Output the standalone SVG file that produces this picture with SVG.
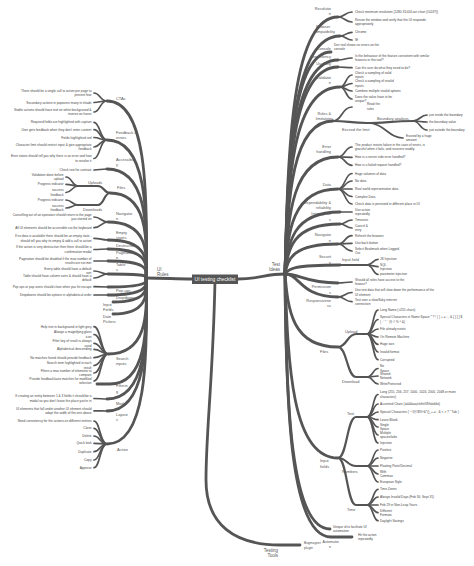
<svg xmlns="http://www.w3.org/2000/svg" width="474" height="566" viewBox="0 0 474 566">
<style>
text{font-family:"Liberation Sans",Arial,sans-serif;fill:#444}
.t{font-size:3.2px}
.e{text-anchor:end}
.b{font-size:3.9px;fill:#555}
.m{font-size:4.5px;fill:#555}
.k{fill:none;stroke:#555;stroke-linecap:round}
.k1{stroke-width:2.8}
.k2{stroke-width:2.2}
.k3{stroke-width:1.7}
</style>
<rect width="474" height="566" fill="#fff"/>
<g id="connectors" class="k">
<g class="k1">
<path d="M146,278 C165,278 175,279 192,279"/>
<path d="M238,279 C260,279 265,274 285,274"/>
<path d="M215,280 C213,380 206,430 206,480 C206,525 235,545 280,545 L300,545"/>
<path d="M285,274 C288,145 292,17 338,17"/>
<path d="M285,274 C288,155 292,36 340,36"/>
<path d="M285,274 C288,163 292,52 331,52"/>
<path d="M285,274 C288,167 292,60 338,60"/>
<path d="M285,274 C288,171 292,67 338,67"/>
<path d="M285,274 C288,180 292,87 340,87"/>
<path d="M285,274 C288,197 292,121 333,121"/>
<path d="M285,274 C288,215 292,157 338,157"/>
<path d="M285,274 C288,231 292,189 338,189"/>
<path d="M285,274 C288,243 292,212 340,212"/>
<path d="M285,274 C288,249 292,224 340,224"/>
<path d="M285,274 C288,259 292,244 338,244"/>
<path d="M285,274 C288,269 292,265 340,265"/>
<path d="M285,274 C300,274 305,283 338,283"/>
<path d="M285,274 C300,274 300,297 338,297"/>
<path d="M285,274 C288,310 292,347 338,347"/>
<path d="M285,274 C288,366 292,458 338,458"/>
<path d="M285,274 C286,400 290,529 330,529"/>
<path d="M285,274 C286,405 290,537 331,537 L352,537"/>
<path d="M146,278 C148,189 146,101 107,101"/>
<path d="M146,278 C148,209 146,140 107,140"/>
<path d="M146,278 C148,223 146,169 107,169"/>
<path d="M146,278 C148,235 146,193 110,193"/>
<path d="M146,278 C148,250 146,222 108,222"/>
<path d="M146,278 C148,259 146,240 108,240"/>
<path d="M146,278 C148,263 146,249 108,249"/>
<path d="M146,278 C148,269 146,261 108,261"/>
<path d="M146,278 C148,276 146,274 108,274"/>
<path d="M146,278 C148,282 146,287 108,287"/>
<path d="M146,278 C148,286 146,295 108,295"/>
<path d="M146,278 C148,290 146,302 113,302"/>
<path d="M146,278 C148,296 146,314 113,314"/>
<path d="M146,278 C148,316 146,354 108,354"/>
<path d="M146,278 C148,331 146,384 110,384 L97,384"/>
<path d="M146,278 C148,338 146,399 107,399"/>
<path d="M146,278 C148,344 146,411 107,411"/>
<path d="M146,278 C148,361 146,444 107,444"/>
</g>
<g class="k2">
<path d="M333,121 C348,121 350,123 367,123"/>
<path d="M367,123 C385,123 392,121 413,121"/>
<path d="M340,265 L367,265"/>
<path d="M338,347 C347,347 347,334 356,334 L367,334"/>
<path d="M338,347 C347,347 347,377 356,377 L367,377"/>
<path d="M338,458 C347,458 347,417 356,417 L367,417"/>
<path d="M338,458 C347,458 347,466 356,466 L367,466"/>
<path d="M338,458 C347,458 347,505 356,505 L367,505"/>
<path d="M110,193 C104,193 104,186 98,186 L78,186"/>
<path d="M110,193 C104,193 104,205 98,205 L78,205"/>
</g>
<g class="k3">
<path d="M338,17 C345,17 345,12 352,12"/><path d="M338,17 C345,17 345,22 352,22"/>
<path d="M340,36 C346,36 346,32.3 352,32.3"/><path d="M340,36 C346,36 346,40 352,40"/>
<path d="M338,60 C345,60 345,58 352,58"/>
<path d="M338,67 C345,67 345,67.7 352,67.7"/>
<path d="M340,87 C346,87 346,75 352,75"/><path d="M340,87 C346,87 346,83.5 352,83.5"/><path d="M340,87 C346,87 346,91 352,91"/><path d="M340,87 C346,87 346,99 352,99"/>
<path d="M333,121 C342,121 342,107 352,107"/>
<path d="M367,123 C385,123 388,138 403,138"/>
<path d="M413,121 C420,121 420,115 427,115"/><path d="M413,121 C420,121 420,122 427,122"/><path d="M413,121 C420,121 420,130 427,130"/>
<path d="M338,157 C345,157 345,147 352,147"/><path d="M338,157 C345,157 345,157.3 352,157.3"/><path d="M338,157 C345,157 345,165.3 352,165.3"/>
<path d="M338,189 C345,189 345,173.5 352,173.5"/><path d="M338,189 C345,189 345,181 352,181"/><path d="M338,189 C345,189 345,189 352,189"/><path d="M338,189 C345,189 345,196.5 352,196.5"/><path d="M338,189 C345,189 345,204 352,204"/>
<path d="M340,212 L352,212"/>
<path d="M340,224 C346,224 346,220 352,220"/><path d="M340,224 C346,224 346,228 352,228"/>
<path d="M338,244 C345,244 345,235.7 352,235.7"/><path d="M338,244 C345,244 345,243.3 352,243.3"/><path d="M338,244 C345,244 345,251 352,251"/>
<path d="M367,265 C373,265 373,259.3 378,259.3"/><path d="M367,265 C373,265 373,266.7 378,266.7"/><path d="M367,265 C373,265 373,274.3 378,274.3"/>
<path d="M338,283 C345,283 345,282 352,282"/>
<path d="M338,297 C345,297 345,292.5 352,292.5"/><path d="M338,297 C345,297 345,301.7 352,301.7"/>
<path d="M367,334 C373,334 373,310 378,310"/><path d="M367,334 C373,334 373,319.5 378,319.5"/><path d="M367,334 C373,334 373,329 378,329"/><path d="M367,334 C373,334 373,337 378,337"/><path d="M367,334 C373,334 373,344.3 378,344.3"/><path d="M367,334 C373,334 373,352 378,352"/><path d="M367,334 C373,334 373,359.7 378,359.7"/>
<path d="M367,377 C373,377 373,368.5 378,368.5"/><path d="M367,377 C373,377 373,376 378,376"/><path d="M367,377 C373,377 373,384 378,384"/>
<path d="M367,417 C373,417 373,394.5 378,394.5"/><path d="M367,417 C373,417 373,404 378,404"/><path d="M367,417 C373,417 373,412 378,412"/><path d="M367,417 C373,417 373,419.7 378,419.7"/><path d="M367,417 C373,417 373,427 378,427"/><path d="M367,417 C373,417 373,435 378,435"/><path d="M367,417 C373,417 373,443 378,443"/>
<path d="M367,466 C373,466 373,450 378,450"/><path d="M367,466 C373,466 373,458 378,458"/><path d="M367,466 C373,466 373,466 378,466"/><path d="M367,466 C373,466 373,474 378,474"/><path d="M367,466 C373,466 373,482 378,482"/>
<path d="M367,505 C373,505 373,489.3 378,489.3"/><path d="M367,505 C373,505 373,497 378,497"/><path d="M367,505 C373,505 373,505 378,505"/><path d="M367,505 C373,505 373,512.7 378,512.7"/><path d="M367,505 C373,505 373,520.7 378,520.7"/>
<path d="M107,101 C100,101 100,93 94,93"/><path d="M107,101 C100,101 100,102.5 94,102.5"/><path d="M107,101 C100,101 100,112 94,112"/>
<path d="M107,140 C100,140 100,122.3 94,122.3"/><path d="M107,140 C100,140 100,129.7 94,129.7"/><path d="M107,140 C100,140 100,137.5 94,137.5"/><path d="M107,140 C100,140 100,147 94,147"/><path d="M107,140 C100,140 100,158.5 94,158.5"/>
<path d="M107,169 C100,169 100,170 94,170"/>
<path d="M78,186 C72,186 72,177 66,177"/><path d="M78,186 C72,186 72,184.3 66,184.3"/><path d="M78,186 C72,186 72,192.5 66,192.5"/>
<path d="M78,205 C72,205 72,200 66,200"/><path d="M78,205 C72,205 72,208 66,208"/>
<path d="M108,222 C101,222 101,217 94,217"/><path d="M108,222 C101,222 101,227.7 94,227.7"/>
<path d="M108,240 C101,240 101,238.3 94,238.3"/>
<path d="M108,249 C101,249 101,249.5 94,249.5"/>
<path d="M108,261 L94,261"/>
<path d="M108,274 C101,274 101,271 94,271"/><path d="M108,274 C101,274 101,278 94,278"/>
<path d="M108,287 L94,286.7"/>
<path d="M108,295 L94,295"/>
<path d="M108,354 C101,354 101,326.7 94,326.7"/><path d="M108,354 C101,354 101,334.5 94,334.5"/><path d="M108,354 C101,354 101,343.3 94,343.3"/><path d="M108,354 C101,354 101,349.3 94,349.3"/><path d="M108,354 C101,354 101,357.7 94,357.7"/><path d="M108,354 C101,354 101,365.5 94,365.5"/><path d="M108,354 C101,354 101,373 94,373"/><path d="M108,354 C101,354 101,381 94,381"/>
<path d="M107,399 C101,399 101,398.5 94,398.5"/>
<path d="M107,411 C101,411 101,410.8 94,410.8"/>
<path d="M107,444 C100,444 100,421 94,421"/><path d="M107,444 C100,444 100,428.3 94,428.3"/><path d="M107,444 C100,444 100,436 94,436"/><path d="M107,444 C100,444 100,443.3 94,443.3"/><path d="M107,444 C100,444 100,451.7 94,451.7"/><path d="M107,444 C100,444 100,460 94,460"/><path d="M107,444 C100,444 100,467.7 94,467.7"/>
</g>
</g>
<g id="root"><rect x="192" y="274.5" width="46" height="9.5" fill="#555"/><text x="215" y="281" style="font-size:4.9px;fill:#fff;text-anchor:middle">UI testing checklist</text></g>
<g id="ui-rules"><text class="m" x="157" y="270.6">UI<tspan x="157" dy="5">Rules</tspan></text></g>
<g id="test-ideas"><text class="m e" x="280" y="265.5">Test<tspan x="280" dy="5.5">Ideas</tspan></text></g>
<g id="testing-tools"><text class="m e" x="278" y="551.5">Testing<tspan x="278" dy="5.5">Tools</tspan></text>
<text x="304" y="544.3" style="font-size:3.3px;fill:#555">Bugmagnet<tspan x="304" dy="4.6">plugin</tspan></text></g>

<g id="resolution"><text class="b e" x="331" y="9.5">Resolutio<tspan x="331" dy="5.3">n</tspan></text>
<text class="t" x="355" y="13.1">Check minimum resolution (1280 X1024 our chart (1024?))</text>
<text class="t" x="355" y="20.9">Resize the window and verify that the UI responds<tspan x="355" dy="4.3">appropriately</tspan></text></g>
<g id="browser"><text class="b" x="316" y="27.5">Browser<tspan x="313.5" dy="5.5">compatibility</tspan></text>
<text class="t" x="355" y="33.4">Chrome</text><text class="t" x="355" y="41.1">IE</text></g>
<g id="console"><text class="b e" x="331" y="49.5">Console</text>
<text class="t" x="334" y="46">Dev tool shows no errors on the<tspan x="334" dy="4.3">console</tspan></text></g>
<g id="consistency"><text class="b e" x="331" y="58">Consistency</text>
<text class="t" x="355" y="57">Is the behaviour of the feature consistent with similar<tspan x="355" dy="4.3">features in this tool?</tspan></text></g>
<g id="usability"><text class="b e" x="331" y="65">Usability</text>
<text class="t" x="355" y="68.8">Can the user do what they need to do?</text></g>
<g id="validation"><text class="b e" x="331" y="78.5">Validatio<tspan x="331" dy="5.3">n</tspan></text>
<text class="t" x="355" y="74">Check a sampling of valid<tspan x="355" dy="4.3">inputs</tspan></text>
<text class="t" x="355" y="82.45">Check a sampling of invalid<tspan x="355" dy="4.3">inputs</tspan></text>
<text class="t" x="355" y="92.1">Combine multiple invalid options</text>
<text class="t" x="355" y="97.95">Does the value have to be<tspan x="355" dy="4.3">unique?</tspan></text></g>
<g id="rules"><text class="b e" x="331" y="114.5">Rules &amp;<tspan x="333" dy="5.3">limitations</tspan></text>
<text class="t" x="367" y="105.3">Read the<tspan x="367" dy="4.3">rules</tspan></text>
<text class="b" x="342" y="131.3">Exceed the limit</text>
<text class="b" x="377" y="119.5">Boundary analysis</text>
<text class="t" x="429" y="116.1">just inside the boundary</text>
<text class="t" x="429" y="123.1">the boundary value</text>
<text class="t" x="429" y="131.1">just outside the boundary</text>
<text class="t" x="406" y="136.9">Exceed by a huge<tspan x="406" dy="4.3">amount</tspan></text></g>
<g id="error-handling"><text class="b e" x="331" y="147.5">Error<tspan x="331" dy="5.3">handling</tspan></text>
<text class="t" x="355" y="145.95">The product resists failure in the case of errors, is<tspan x="355" dy="4.3">graceful when it fails, and recovers readily.</tspan></text>
<text class="t" x="355" y="158.4">How is a server side error handled?</text>
<text class="t" x="355" y="166.4">How is a failed request handled?</text></g>
<g id="data"><text class="b e" x="331" y="185.5">Data</text>
<text class="t" x="355" y="174.6">Huge volumes of data</text>
<text class="t" x="355" y="182.1">No data</text>
<text class="t" x="355" y="190.1">Real world representative data</text>
<text class="t" x="355" y="197.6">Complex Data</text>
<text class="t" x="355" y="205.1">Check data is persisted in different place in UI</text></g>
<g id="dependability"><text class="b e" x="331" y="203.5">Dependability &amp;<tspan x="331" dy="5.3">reliability</tspan></text>
<text class="t" x="355" y="210.95">Use action<tspan x="355" dy="4.3">repeatedly</tspan></text></g>
<g id="interruptions"><text class="b e" x="331" y="215.3">Interruption<tspan x="331" dy="5.3">s</tspan></text>
<text class="t" x="355" y="221.1">Timeouts</text>
<text class="t" x="355" y="226.95">Cancel &amp;<tspan x="355" dy="4.3">retry</tspan></text></g>
<g id="navigation-r"><text class="b e" x="331" y="236.3">Navigatio<tspan x="331" dy="5.3">n</tspan></text>
<text class="t" x="355" y="236.8">Refresh the browser</text>
<text class="t" x="355" y="244.4">Use back button</text>
<text class="t" x="355" y="249.95">Select Bookmark when Logged<tspan x="355" dy="4.3">Out</tspan></text></g>
<g id="security"><text class="b e" x="331" y="258.3">Securit<tspan x="331" dy="5.2">y</tspan></text>
<text class="b" x="342" y="260.5">Input field</text>
<text class="t" x="380" y="260.4">JS Injection</text>
<text class="t" x="380" y="265.65">SQL<tspan x="380" dy="4.3">Injection</tspan></text>
<text class="t" x="380" y="275.4">parameter injection</text></g>
<g id="permissions"><text class="b e" x="331" y="288.3">Permission<tspan x="331" dy="5.2">s</tspan></text>
<text class="t" x="355" y="280.95">Should all roles have access to the<tspan x="355" dy="4.3">feature?</tspan></text></g>
<g id="responsiveness"><text class="b e" x="331" y="302">Responsivene<tspan x="331" dy="5.3">ss</tspan></text>
<text class="t" x="355" y="291.45">Use test data that will slow down the performance of the<tspan x="355" dy="4.3">UI element</tspan></text>
<text class="t" x="355" y="300.65">Test over a slow/flaky internet<tspan x="355" dy="4.3">connection</tspan></text></g>
<g id="files-r"><text class="b" x="320" y="353">Files</text>
<text class="b" x="345" y="332.5">Upload</text>
<text class="t" x="380" y="311.1">Long Name (&gt;255 chars)</text>
<text class="t" x="380" y="318.45">Special Characters in Name Space * ? ! ( ) + = ; , &amp; { } [ ] $<tspan x="380" dy="4.3">| : ' " ` @ # % ^ &amp;)</tspan></text>
<text class="t" x="380" y="330.1">File already exists</text>
<text class="t" x="380" y="338.1">On Remote Machine</text>
<text class="t" x="380" y="345.4">Huge size</text>
<text class="t" x="380" y="353.1">Invalid format</text>
<text class="t" x="380" y="360.8">Corrupted</text>
<text class="b" x="342" y="383">Download</text>
<text class="t" x="380" y="367.45">No<tspan x="380" dy="4.3">Space</tspan></text>
<text class="t" x="380" y="374.95">Shared<tspan x="380" dy="4.3">Network</tspan></text>
<text class="t" x="380" y="385.1">WriteProtected</text></g>
<g id="input-fields-r"><text class="b" x="320" y="462.3">Input<tspan x="320" dy="5.3">fields</tspan></text>
<text class="b" x="347" y="414.5">Text</text>
<text class="t" x="380" y="393.45">Long (255, 256, 257, 1000, 1024, 2000, 2048 or more<tspan x="380" dy="4.3">characters)</tspan></text>
<text class="t" x="380" y="405.1">Accented Chars (àáâãäåçèéêëìíîðñòóôõö)</text>
<text class="t" x="380" y="413.1">Special Characters (`~!@#$%^&amp;*()_+-= ; &amp; &lt; &gt; ? " Tab )</text>
<text class="t" x="380" y="420.8">Leave Blank</text>
<text class="t" x="380" y="425.95">Single<tspan x="380" dy="4.3">Space</tspan></text>
<text class="t" x="380" y="433.95">Multiple<tspan x="380" dy="4.3">spaces/tabs</tspan></text>
<text class="t" x="380" y="444.1">Injection</text>
<text class="b" x="342" y="472.5">Numbers</text>
<text class="t" x="380" y="451.1">Positive</text>
<text class="t" x="380" y="459.1">Negative</text>
<text class="t" x="380" y="467.1">Floating Point/Decimal</text>
<text class="t" x="380" y="472.95">With<tspan x="380" dy="4.3">Commas</tspan></text>
<text class="t" x="380" y="483.1">European Style</text>
<text class="b" x="347" y="511">Time</text>
<text class="t" x="380" y="490.4">Time Zones</text>
<text class="t" x="380" y="498.1">Always Invalid Days (Feb 30, Sept 31)</text>
<text class="t" x="380" y="506.1">Feb 29 in Non-Leap Years</text>
<text class="t" x="380" y="511.65">Different<tspan x="380" dy="4.3">Formats</tspan></text>
<text class="t" x="380" y="521.8">Daylight Savings</text></g>
<g id="unique-id"><text class="t" x="333" y="527.8">Unique id to facilitate UI<tspan x="333" dy="4.3">automation</tspan></text></g>
<g id="automation"><text x="322.5" y="542.5" style="font-size:3.6px;fill:#555">Automatio<tspan x="329" dy="5">n</tspan></text>
<text class="t" x="358" y="535.5">Hit the action<tspan x="358" dy="4.3">repeatedly</tspan></text></g>

<g id="ctas"><text class="b" x="116" y="99.5">CTAs</text>
<text class="t e" x="91.5" y="91.95">There should be a single call to action per page to<tspan x="91.5" dy="4.3">prevent fear</tspan></text>
<text class="t e" x="91.5" y="103.6">Secondary actions in popovers many in shade</text>
<text class="t e" x="91.5" y="110.95">Stable actions should have text on white background &amp;<tspan x="91.5" dy="4.3">inverse on hover</tspan></text></g>
<g id="feedback"><text class="b" x="116" y="134">Feedback &amp;<tspan x="116" dy="5">errors</tspan></text>
<text class="t e" x="91.5" y="123.4">Required fields are highlighted with caption</text>
<text class="t e" x="91.5" y="130.8">User gets feedback when they don't enter content</text>
<text class="t e" x="91.5" y="138.6">Fields highlighted red</text>
<text class="t e" x="91.5" y="145.95">Character limit should restrict input &amp; give appropriate<tspan x="91.5" dy="4.3">feedback</tspan></text>
<text class="t e" x="91.5" y="157.45">Error states should tell you why there is an error and how<tspan x="91.5" dy="4.3">to resolve it</tspan></text></g>
<g id="accessibility"><text class="b" x="116" y="161.3">Accessibilit<tspan x="116" dy="5">y</tspan></text>
<text class="t e" x="91.5" y="171.1">Check text for contrast</text></g>
<g id="files-l"><text class="b" x="117" y="189">Files</text>
<text class="b" x="88" y="184">Uploads</text>
<text class="t e" x="63.5" y="175.95">Validation done before<tspan x="63.5" dy="4.3">upload</tspan></text>
<text class="t e" x="63.5" y="185.4">Progress indicator</text>
<text class="t e" x="63.5" y="191.45">success<tspan x="63.5" dy="4.3">feedback</tspan></text>
<text class="b" x="83" y="210.5">Downloads</text>
<text class="t e" x="63.5" y="201.1">Progress indicator</text>
<text class="t e" x="63.5" y="206.95">success<tspan x="63.5" dy="4.3">feedback</tspan></text></g>
<g id="navigation-l"><text class="b" x="116" y="214.5">Navigatio<tspan x="116" dy="5">n</tspan></text>
<text class="t e" x="91.5" y="215.95">Cancelling out of an operation should return to the page<tspan x="91.5" dy="4.3">you started on</tspan></text>
<text class="t e" x="91.5" y="228.8">All UI elements should be accessible via the keyboard</text></g>
<g id="empty-states"><text class="b" x="116" y="234">Empty<tspan x="116" dy="4.5">states</tspan></text>
<text class="t e" x="91.5" y="237.25">If no data is available there should be an empty state -<tspan x="91.5" dy="4.3">should tell you why its empty &amp; add a call to action</tspan></text></g>
<g id="destructive"><text class="b" x="116" y="247">Destructive</text>
<text class="t e" x="91.5" y="248.45">If the action is very destructive then there should be a<tspan x="91.5" dy="4.3">confirmation modal</tspan></text></g>
<g id="pagination"><text class="b" x="116" y="253.5">Paginatio<tspan x="116" dy="5">n</tspan></text>
<text class="t e" x="91.5" y="259.95">Pagination should be disabled if the max number of<tspan x="91.5" dy="4.3">results are not met</tspan></text></g>
<g id="tables"><text class="b" x="116" y="266">Table<tspan x="116" dy="5">s</tspan></text>
<text class="t e" x="91.5" y="269.95">Every table should have a default<tspan x="91.5" dy="4.3">sort</tspan></text>
<text class="t e" x="91.5" y="276.95">Table should have column sorts &amp; should have a<tspan x="91.5" dy="4.3">default</tspan></text></g>
<g id="popups"><text class="b" x="116" y="291.5">Pop-ups</text>
<text class="t e" x="91.5" y="287.8">Pop ups or pop overs should close when you hit escape</text></g>
<g id="dropdowns"><text class="b" x="116" y="299">Dropdowns</text>
<text class="t e" x="91.5" y="296.1">Dropdowns should be options in alphabetical order</text></g>
<g id="input-fields-l"><text class="b" x="103" y="306">Input<tspan x="103" dy="4.5">Fields</tspan></text></g>
<g id="date-pickers"><text class="b" x="103" y="318">Date<tspan x="103" dy="4.5">Pickers</tspan></text></g>
<g id="search"><text class="b" x="116" y="359.5">Search<tspan x="116" dy="5">inputs</tspan></text>
<text class="t e" x="91.5" y="327.8">Help text in background in light grey</text>
<text class="t e" x="91.5" y="333.45">Always a magnifying glass<tspan x="91.5" dy="4.3">icon</tspan></text>
<text class="t e" x="91.5" y="342.25">Filter key of result is always<tspan x="91.5" dy="4.3">used</tspan></text>
<text class="t e" x="91.5" y="350.4">Alphabetical descending</text>
<text class="t e" x="91.5" y="358.8">No matches found should provide feedback</text>
<text class="t e" x="91.5" y="364.45">Search term highlighted in each<tspan x="91.5" dy="4.3">result</tspan></text>
<text class="t e" x="91.5" y="371.95">Filters a max number of elements to<tspan x="91.5" dy="4.3">compare</tspan></text>
<text class="t e" x="91.5" y="379.95">Provide feedback/auto matches for modified<tspan x="91.5" dy="4.3">selection</tspan></text></g>
<g id="filtering"><text class="b" x="116" y="387">Filterin<tspan x="116" dy="5.5">g</tspan></text></g>
<g id="modals"><text class="b" x="116" y="405.3">Modal<tspan x="116" dy="4.3">s</tspan></text>
<text class="t e" x="91.5" y="397.45">If creating an entity between 1 &amp; 3 fields it should be a<tspan x="91.5" dy="4.3">modal so you don't leave the place you're in</tspan></text></g>
<g id="layouts"><text class="b" x="116" y="415.5">Layout<tspan x="116" dy="5">s</tspan></text>
<text class="t e" x="91.5" y="409.75">UI elements that fall under another UI element should<tspan x="91.5" dy="4.3">adopt the width of the one above</tspan></text></g>
<g id="action"><text class="b" x="117" y="450.5">Action</text>
<text class="t e" x="91.5" y="422.1">Need consistency for the actions on different entities</text>
<text class="t e" x="91.5" y="429.4">Close</text>
<text class="t e" x="91.5" y="437.1">Delete</text>
<text class="t e" x="91.5" y="444.4">Quick look</text>
<text class="t e" x="91.5" y="452.8">Duplicate</text>
<text class="t e" x="91.5" y="461.1">Copy</text>
<text class="t e" x="91.5" y="468.8">Approve</text></g>
</svg>
